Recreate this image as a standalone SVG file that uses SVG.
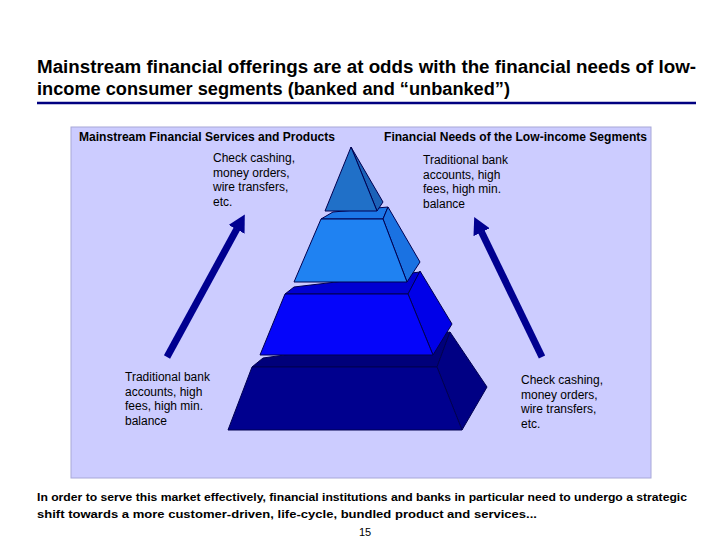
<svg xmlns="http://www.w3.org/2000/svg" width="728" height="546" viewBox="0 0 728 546">
<defs>
<style>
text{font-family:"Liberation Sans",Arial,sans-serif;fill:#000}
.title{font-size:18px;font-weight:bold}
.hdr{font-size:12px;font-weight:bold}
.body{font-size:12px}
.foot{font-size:11.5px;font-weight:bold}
.face{stroke:#000050;stroke-width:1;stroke-linejoin:round}
.arrow{stroke:#000090;stroke-width:7;fill:none}
</style>
<marker id="ah" viewBox="0 0 17 18" refX="0.5" refY="9" markerWidth="17" markerHeight="18" markerUnits="userSpaceOnUse" orient="auto">
<path d="M0,0 L17,9 L0,18 Z" fill="#000090"/>
</marker>
</defs>
<rect width="728" height="546" fill="#fff"/>
<g id="title">
<text class="title" x="37" y="73" textLength="659" lengthAdjust="spacingAndGlyphs">Mainstream financial offerings are at odds with the financial needs of low-</text>
<text class="title" x="37" y="95" textLength="473" lengthAdjust="spacingAndGlyphs">income consumer segments (banked and “unbanked”)</text>
<line x1="37" y1="103" x2="696" y2="103" stroke="#000080" stroke-width="2.5"/>
</g>
<g id="panel">
<rect x="71" y="127" width="580" height="351" fill="#ccccff" stroke="#a8a8d8" stroke-width="1"/>
<text class="hdr" x="79" y="141" textLength="256" lengthAdjust="spacingAndGlyphs">Mainstream Financial Services and Products</text>
<text class="hdr" x="384" y="141" textLength="263" lengthAdjust="spacingAndGlyphs">Financial Needs of the Low-income Segments</text>
</g>
<g id="pyramid">
<g id="tier4">
<polygon class="face" fill="#00007a" points="252,367 263,358 450,332 437,367"/>
<polygon class="face" fill="#000084" points="437,367 450,332 487,387 462,430"/>
<polygon class="face" fill="#00008e" points="252,367 437,367 462,430 228,430"/>
</g>
<g id="tier3">
<polygon class="face" fill="#0000d2" points="285,294 294,287 420,272 408,294"/>
<polygon class="face" fill="#0000e8" points="408,294 420,271 452,324 433,355"/>
<polygon class="face" fill="#0505fa" points="285,294 408,294 433,355 260,355"/>
</g>
<g id="tier2">
<polygon class="face" fill="#1c78e8" points="321,219 333,212 388,207 383,219"/>
<polygon class="face" fill="#1a72e2" points="383,219 388,207 420,262 407,282"/>
<polygon class="face" fill="#1f82f2" points="321,219 383,219 407,282 294,282"/>
</g>
<g id="tier1">
<polygon class="face" fill="#1c62b8" points="351,147 383,202 377,211"/>
<polygon class="face" fill="#2070c8" points="351,147 377,211 325,211"/>
</g>
</g>
<g id="connectors">
<line class="arrow" x1="167" y1="357" x2="236.9" y2="228.9" marker-end="url(#ah)"/>
<line class="arrow" x1="542" y1="357" x2="481.4" y2="231.8" marker-end="url(#ah)"/>
</g>
<g id="label-left-top">
<text class="body" x="213" y="162">Check cashing,</text>
<text class="body" x="213" y="176.5">money orders,</text>
<text class="body" x="213" y="191">wire transfers,</text>
<text class="body" x="213" y="205.5">etc.</text>
</g>
<g id="label-right-top">
<text class="body" x="423" y="164">Traditional bank</text>
<text class="body" x="423" y="178.5">accounts, high</text>
<text class="body" x="423" y="193">fees, high min.</text>
<text class="body" x="423" y="207.5">balance</text>
</g>
<g id="label-left-bottom">
<text class="body" x="125" y="381">Traditional bank</text>
<text class="body" x="125" y="395.5">accounts, high</text>
<text class="body" x="125" y="410">fees, high min.</text>
<text class="body" x="125" y="424.5">balance</text>
</g>
<g id="label-right-bottom">
<text class="body" x="521" y="384">Check cashing,</text>
<text class="body" x="521" y="398.5">money orders,</text>
<text class="body" x="521" y="413">wire transfers,</text>
<text class="body" x="521" y="427.5">etc.</text>
</g>
<g id="footer">
<text class="foot" x="37" y="501" textLength="650" lengthAdjust="spacingAndGlyphs">In order to serve this market effectively, financial institutions and banks in particular need to undergo a strategic</text>
<text class="foot" x="37" y="518" textLength="500" lengthAdjust="spacingAndGlyphs">shift towards a more customer-driven, life-cycle, bundled product and services...</text>
<text x="365" y="536" font-size="11" text-anchor="middle">15</text>
</g>
</svg>
